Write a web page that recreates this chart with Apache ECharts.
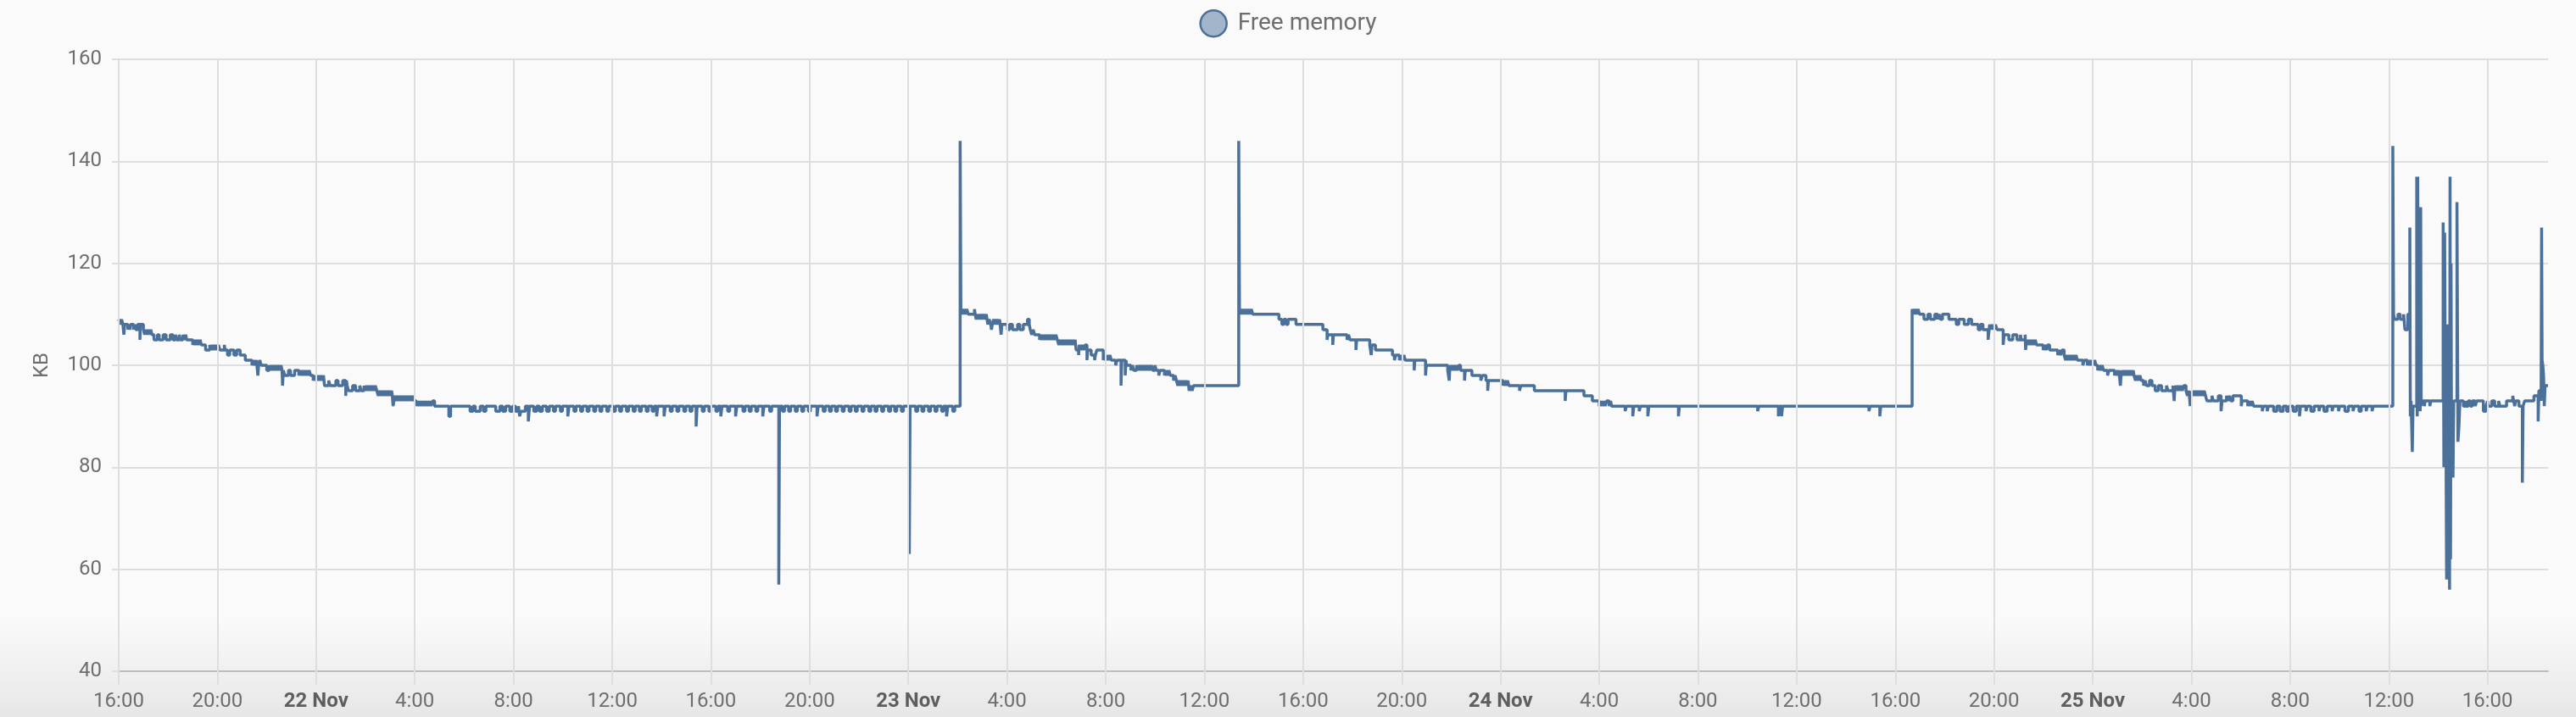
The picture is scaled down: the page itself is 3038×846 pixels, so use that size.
<!DOCTYPE html>
<html><head><meta charset="utf-8">
<script src="https://cdn.jsdelivr.net/npm/echarts@6/dist/echarts.min.js"></script>
<style>html,body{margin:0;padding:0;background:#fafafa}#c{width:3038px;height:846px}</style>
</head><body><div id="c"></div>
<script>
// x values are hours after 21 Nov 16:00
const seriesName = 'Free memory';
const yAxisName = 'KB';
const xMaxHours = 98.45;
const tickHours = [0,4,8,12,16,20,24,28,32,36,40,44,48,52,56,60,64,68,72,76,80,84,88,92,96];
const yTicks = [40,60,80,100,120,140,160];

const nov21Evening = [[0,109],[0.06,108],[0.12,109],[0.17,108],[0.21,106],[0.24,108],[0.37,107],[0.42,108],[0.45,107],[0.48,108],[0.6,107],[0.65,108],[0.7,107],[0.77,108],[0.86,105],[0.88,108],
[1.0,107],[1.05,106],[1.1,107],[1.15,106],[1.2,107],[1.25,106],[1.3,107],[1.35,106],
[1.43,105],[1.57,106],[1.64,105],[1.8,106],[1.92,105],[2.09,106],[2.2,105],[2.3,106],[2.35,105],[2.45,106],[2.5,105],[2.6,106],[2.66,105],[2.72,106],[2.75,105],
[3.0,104],[3.06,105],[3.12,104],[3.18,105],[3.24,104],[3.3,105],[3.35,104],[3.52,103],[3.69,104],
[3.75,103],[3.8,104],[3.86,103],[3.92,104],[3.98,103],[4.04,104],[4.1,103],
[4.28,104],[4.31,103],[4.41,102],[4.5,103],[4.67,102],[4.78,103],[4.92,102],[5.13,101],
[5.4,100],[5.46,101],[5.52,100],[5.58,101],[5.64,98],[5.67,100],[5.72,101],[5.77,100],
[6.0,99],[6.1,100],[6.16,99],[6.22,100],[6.28,99],[6.34,100],[6.4,99],[6.46,100],[6.52,99],[6.58,100],
[6.62,99],[6.64,96],[6.67,99],[6.73,98],[6.88,99],[6.96,98],[7.13,99],
[7.3,98],[7.36,99],[7.42,98],[7.48,99],[7.54,98],[7.6,99],[7.66,98],[7.72,99],[7.78,98],
[7.88,97],[7.94,98],[8.0,97],[8.06,98],[8.12,97],[8.18,98],[8.24,97],[8.3,98],
[8.34,96],[8.51,97],[8.57,96],[8.8,97],[8.89,96],[9.08,97],[9.2,94],[9.23,97],
[9.26,96],[9.31,95],[9.48,96],[9.6,95],[9.77,96],[9.83,95],[9.94,96],
[9.98,95],[10.04,96],[10.1,95],[10.16,96],[10.22,95],[10.28,96],[10.34,95],[10.4,96],
[10.46,95],[10.52,94],[10.58,95],[10.64,94],[10.7,95],[10.76,94],[10.82,95],[10.88,94],[10.94,95],[11.0,94],[11.06,95],
[11.09,94],[11.12,92],[11.15,93],[11.21,94],[11.27,93],[11.33,94],[11.39,93],[11.45,94],[11.51,93],[11.57,94],[11.63,93],[11.69,94],[11.75,93],[11.81,94],[11.87,93],[11.93,94],[11.99,93],
[12.06,92],[12.12,93],[12.18,92],[12.24,93],[12.3,92],[12.36,93],[12.42,92],[12.48,93],[12.54,92],[12.6,93],[12.66,92],[12.72,93],
[12.8,92],[13.38,90],[13.45,92],[14.24,91],[14.36,92],[14.45,91],[14.65,92],[14.78,91],[14.88,92],[15.28,91],[15.45,92],[15.56,91],[15.68,92],[15.85,91],[15.96,92],[16.08,91],[16.2,92],[16.25,90],[16.3,91],[16.48,92],[16.6,89],[16.65,92],[16.82,91],[16.94,92],[17.05,91],[17.17,92],[17.34,91],[17.45,92]];

const nov22 = [[17.62,91],[17.7,92],[17.9,91],[17.98,92],[18.2,90],[18.25,92],[18.45,91],[18.53,92],[18.72,91],[18.8,92],[18.98,91],[19.06,92],[19.25,91],[19.33,92],[19.5,91],[19.58,92],[19.78,91],[19.86,92],[20.05,91],[20.13,92],[20.3,91],[20.38,92],[20.58,91],[20.66,92],[20.85,91],[20.93,92],[21.1,91],[21.18,92],[21.38,91],[21.46,92],[21.62,91],[21.7,92],[21.8,90],[21.85,92],[22.1,90],[22.15,92],[22.35,91],[22.43,92],[22.62,91],[22.7,92],[22.9,91],[22.98,92],[23.15,91],[23.23,92],[23.4,88],[23.44,92],[23.65,91],[23.73,92],[23.92,91],[24.0,92],[24.2,91],[24.28,92],[24.4,90],[24.45,92],[24.68,91],[24.76,92],[25.0,90],[25.05,92],[25.3,91],[25.38,92],[25.55,91],[25.63,92],[25.82,91],[25.9,92],[26.1,90],[26.15,92],[26.38,91],[26.46,92],[26.75,57],[26.78,92],[26.9,91],[26.98,92],[27.15,91],[27.23,92],[27.42,91],[27.5,92],[27.68,91],[27.76,92],[27.95,91],[28.03,92],[28.3,90],[28.35,92],[28.55,91],[28.63,92],[28.8,91],[28.88,92],[29.05,91],[29.13,92],[29.32,91],[29.4,92],[29.6,91],[29.68,92],[29.85,91],[29.93,92],[30.12,91],[30.2,92],[30.4,91],[30.48,92],[30.65,91],[30.73,92],[30.92,91],[31.0,92],[31.2,91],[31.28,92],[31.45,91],[31.53,92],[31.72,91],[31.8,92],[32.04,63],[32.07,92],[32.3,91],[32.38,92],[32.55,91],[32.63,92],[32.82,91],[32.9,92],[33.08,91],[33.16,92],[33.35,91],[33.43,92],[33.55,90],[33.6,92],[33.8,91],[33.88,92]];

const nov23Morning = [[34.1,144],[34.13,111],[34.19,110],[34.25,111],[34.31,110],[34.37,111],[34.43,110],[34.68,111],[34.71,110],[34.75,109],[34.8,110],[34.86,109],[34.92,110],[34.98,109],[35.04,110],[35.1,109],[35.16,110],[35.22,108],[35.28,109],[35.34,108],[35.37,107],[35.4,108],[35.46,109],[35.52,108],[35.58,109],[35.64,108],[35.7,109],[35.76,106],[35.79,108],[36.02,107],[36.1,108],[36.22,107],[36.43,108],[36.52,107],[36.66,108],[36.83,109],[36.9,108],[36.94,107],[37.0,106],[37.06,107],[37.12,106],[37.32,105],[37.38,106],[37.44,105],[37.5,106],[37.56,105],[37.62,106],[37.68,105],[37.74,106],[37.8,105],[37.86,106],[37.92,105],[37.98,106],[38.04,105],[38.1,104],[38.16,105],[38.22,104],[38.28,105],[38.34,104],[38.4,105],[38.46,104],[38.52,105],[38.58,104],[38.64,105],[38.7,104],[38.76,105],[38.8,103],[38.9,102],[38.93,104],[38.99,103],[39.05,104],[39.11,103],[39.17,104],[39.24,101],[39.27,103],[39.41,102],[39.55,101],[39.58,102],[39.64,103],[39.9,101],[39.93,102],[39.99,101],[40.05,102],[40.11,101],[40.17,102],[40.23,101],[40.4,100],[40.46,101],[40.62,96],[40.65,101],[40.79,98],[40.82,101],[40.85,100],[41.02,99],[41.08,100],[41.14,99],[41.25,100],[41.31,99],[41.37,100],[41.43,99],[41.49,100],[41.55,99],[41.61,100],[41.67,99],[41.73,100],[41.79,99],[41.85,100],[41.91,99],[41.99,100],[42.05,99],[42.15,98],[42.2,99],[42.38,98],[42.44,99],[42.5,98],[42.56,99],[42.62,98],[42.75,97],[42.81,98],[42.87,97],[42.92,96],[42.98,97],[43.04,96],[43.1,97],[43.16,96],[43.22,97],[43.28,96],[43.34,97],[43.38,95],[43.44,96],[43.5,95],[43.56,96]];

const nov23Afternoon = [[45.39,144],[45.42,111],[45.48,110],[45.54,111],[45.6,110],[45.66,111],[45.72,110],[45.78,111],[45.84,110],[45.9,111],[45.96,110],[47.02,109],[47.14,108],[47.22,109],[47.31,108],[47.39,109],[47.71,108],[48.8,107],[48.97,105],[49.0,106],[49.2,104],[49.23,106],[49.78,105],[49.84,106],[49.9,105],[50.14,103],[50.17,105],[50.7,104],[50.76,102],[50.79,104],[50.93,103],[51.62,102],[51.7,101],[51.75,102],[51.9,101],[51.96,102],[52.02,101],[52.08,102],[52.14,101],[52.5,99],[52.53,101],[52.96,98],[52.99,100],[53.86,99],[53.92,97],[53.95,100],[54.01,99],[54.07,100],[54.13,99],[54.19,100],[54.25,99],[54.31,100],[54.38,99],[54.54,97],[54.57,99],[54.84,98],[55.2,97],[55.26,98],[55.41,97],[55.48,95],[55.51,97],[56.1,96],[56.16,97],[56.22,96],[56.28,97],[56.34,96],[56.77,95],[56.82,96],[57.37,95],[58.62,93],[58.65,95],[59.38,94],[59.72,93],[60.0,92],[60.06,93],[60.12,92],[60.18,93],[60.24,92],[60.3,93],[60.4,92],[60.46,93],[60.5,92],[61.05,91],[61.1,92],[61.36,90],[61.4,92],[61.62,91],[61.67,92],[61.97,90],[62.01,92],[63.21,90],[63.25,92],[66.42,91],[66.47,92],[67.26,90],[67.3,92],[67.39,90],[67.43,92],[70.93,91],[70.98,92],[71.37,90],[71.41,92]];

const nov24 = [[72.68,111],[72.74,110],[72.8,111],[72.86,110],[72.92,111],[72.98,110],[73.16,109],[73.32,110],[73.42,109],[73.6,110],[73.71,109],[73.77,110],[73.83,109],[73.91,110],[74.17,109],[74.47,108],[74.57,109],[74.79,108],[74.96,109],[75.09,108],[75.36,107],[75.45,108],[75.55,107],[75.76,105],[75.8,107],[75.82,108],[75.88,107],[75.94,108],[76.0,107],[76.06,108],[76.12,107],[76.37,104],[76.41,106],[76.6,105],[76.76,106],[76.93,105],[77.07,106],[77.1,105],[77.26,106],[77.28,103],[77.31,105],[77.37,104],[77.43,105],[77.49,104],[77.55,105],[77.61,104],[77.67,105],[77.72,104],[77.99,103],[78.05,104],[78.11,103],[78.17,104],[78.25,103],[78.58,102],[78.64,103],[78.7,102],[78.76,103],[78.84,102],[78.9,101],[78.96,102],[79.02,101],[79.08,102],[79.14,101],[79.2,102],[79.26,101],[79.32,102],[79.38,101],[79.6,100],[79.66,101],[79.78,100],[79.84,101],[79.9,100],[79.96,101],[80.02,100],[80.08,101],[80.13,100],[80.2,99],[80.26,100],[80.32,99],[80.38,100],[80.44,99],[80.6,98],[80.66,99],[80.88,98],[80.94,99],[81.0,98],[81.06,99],[81.12,96],[81.16,99],[81.22,98],[81.28,99],[81.34,98],[81.4,99],[81.46,98],[81.52,99],[81.58,98],[81.64,99],[81.67,98],[81.73,97],[81.79,98],[81.85,97],[81.91,98],[81.97,97],[82.06,96],[82.12,97],[82.18,96],[82.3,97],[82.4,96],[82.53,95],[82.66,96],[82.79,95],[82.99,96],[83.05,95],[83.25,96],[83.3,93],[83.33,96],[83.39,95],[83.45,96],[83.51,95],[83.57,96],[83.63,95],[83.69,96],[83.78,95],[83.84,94],[83.9,95],[83.95,92],[83.98,94],[84.04,95],[84.1,94],[84.16,95],[84.22,94],[84.28,95],[84.34,94],[84.4,95],[84.46,94],[84.52,95],[84.57,94],[84.63,93],[84.83,94],[84.89,93],[85.09,94],[85.2,91],[85.24,93],[85.42,94],[85.48,93],[85.54,94],[85.6,93],[85.68,94],[86.02,92],[86.05,93],[86.28,92],[86.34,93],[86.4,92],[86.46,93],[86.52,92],
[86.87,91],[86.92,92],[87.07,91],[87.12,92],[87.33,91],[87.46,92],[87.59,91],[87.72,92],[87.86,91],[87.95,92],[88.12,91],[88.25,92],[88.38,90],[88.42,92],[88.64,91],[88.69,92],[88.84,91],[88.97,92],[89.17,91],[89.22,92],[89.37,91],[89.5,92],[89.7,91],[89.75,92],[89.96,91],[90.01,92],[90.22,91],[90.36,92],[90.55,91],[90.6,92],[90.79,91],[90.88,92],[91.08,91],[91.13,92],[91.32,91],[91.37,92]];

const nov25 = [[92.16,143],[92.19,110],[92.23,109],[92.37,110],[92.46,109],[92.6,110],[92.65,107],[92.77,110],[92.85,127],[92.87,90],[92.9,93],[92.95,83],[92.98,92],[93.13,137],[93.15,90],[93.17,137],[93.19,91],[93.21,129],[93.23,92],[93.25,131],[93.27,91],[93.29,131],[93.31,92],[93.33,93],[93.44,92],[93.47,93],[93.66,92],[93.7,93],[94.2,128],[94.23,80],[94.26,126],[94.29,92],[94.32,80],[94.34,58],[94.36,108],[94.38,60],[94.4,106],[94.42,58],[94.44,100],[94.46,56],[94.48,137],[94.5,62],[94.52,120],[94.54,80],[94.57,93],[94.6,78],[94.63,93],[94.76,132],[94.8,85],[94.84,88],[94.88,93],[95.02,92],[95.1,93],[95.15,92],[95.22,93],[95.3,92],[95.38,93],[95.5,92],[95.56,93],[95.83,91],[95.94,92],[96.0,93],[96.02,92],[96.17,93],[96.29,92],[96.45,93],[96.5,92],[96.77,93],[97.02,94],[97.06,93],[97.1,92],[97.14,93],[97.27,92],[97.41,77],[97.44,92],[97.5,93],[97.88,94],[98.05,89],[98.08,95],[98.17,93],[98.19,127],[98.21,101],[98.24,100],[98.27,98],[98.3,92],[98.33,96],[98.45,96]];

const memoryData = [].concat(nov21Evening, nov22, nov23Morning, nov23Afternoon, nov24, nov25);

function hourLabel(h) {
  if (Math.abs(h / 4 - Math.round(h / 4)) > 1e-6) return '';
  const tot = 16 + Math.round(h);
  const hr = tot % 24;
  const day = 21 + Math.floor(tot / 24);
  if (hr === 0) return '{d|' + day + ' Nov}';
  return hr + ':00';
}

const chart = echarts.init(document.getElementById('c'));
const lineColor = '#4b7099';
const labelColor = '#6e6e6e';
chart.setOption({
  backgroundColor: '#fafafa',
  animation: false,
  textStyle: { fontFamily: 'Roboto' },
  graphic: [{
    type: 'rect', silent: true, z: -10,
    shape: { x: 0, y: 730, width: 3038, height: 116 },
    style: { fill: new echarts.graphic.LinearGradient(0, 0, 0, 1, [
      { offset: 0, color: 'rgba(0,0,0,0)' }, { offset: 1, color: 'rgba(0,0,0,0.08)' }]) }
  }],
  legend: {
    data: [seriesName], top: 6, left: 'center', icon: 'circle',
    itemWidth: 31, itemHeight: 31,
    itemStyle: { color: 'rgba(75,112,153,0.5)', borderColor: lineColor, borderWidth: 2.5 },
    textStyle: { fontSize: 28, color: labelColor, fontFamily: 'Roboto', padding: [0, 0, 0, 8] }
  },
  grid: { left: 140, right: 33, top: 70, bottom: 54 },
  xAxis: {
    type: 'value', min: 0, max: xMaxHours, interval: 4,
    axisLine: { show: true, lineStyle: { color: '#bdbdbd', width: 2 } },
    axisTick: { show: true, length: 16, lineStyle: { color: '#dedede', width: 2 } },
    splitLine: { show: false },
    axisLabel: {
      margin: 24, fontSize: 24, color: labelColor, fontFamily: 'Roboto',
      showMinLabel: true, showMaxLabel: false, formatter: hourLabel,
      rich: { d: { fontSize: 24, fontWeight: 'bold', color: '#5e5e5e', fontFamily: 'Roboto' } }
    }
  },
  yAxis: {
    type: 'value', min: yTicks[0], max: yTicks[yTicks.length - 1], interval: 20,
    name: yAxisName, nameLocation: 'middle', nameGap: 78,
    nameTextStyle: { fontSize: 24, color: labelColor, fontFamily: 'Roboto' },
    axisLine: { show: true, lineStyle: { color: '#c8c8c8', width: 2 } },
    axisTick: { show: true, length: 8, lineStyle: { color: '#dedede', width: 2 } },
    splitLine: { show: true, lineStyle: { color: '#dedede', width: 2 } },
    axisLabel: { margin: 20, fontSize: 24, color: labelColor, fontFamily: 'Roboto' }
  },
  series: [
    {
      name: 'grid', type: 'line', data: [], z: 1, silent: true,
      markLine: {
        silent: true, symbol: 'none', animation: false, label: { show: false },
        lineStyle: { color: '#dedede', width: 2, type: 'solid' },
        data: tickHours.map(h => ({ xAxis: h }))
      }
    },
    {
      name: seriesName, type: 'line', step: 'end', data: memoryData,
      showSymbol: false, symbol: 'none', z: 3,
      lineStyle: { color: lineColor, width: 3.5 }, itemStyle: { color: lineColor }
    }
  ]
});
</script></body></html>
